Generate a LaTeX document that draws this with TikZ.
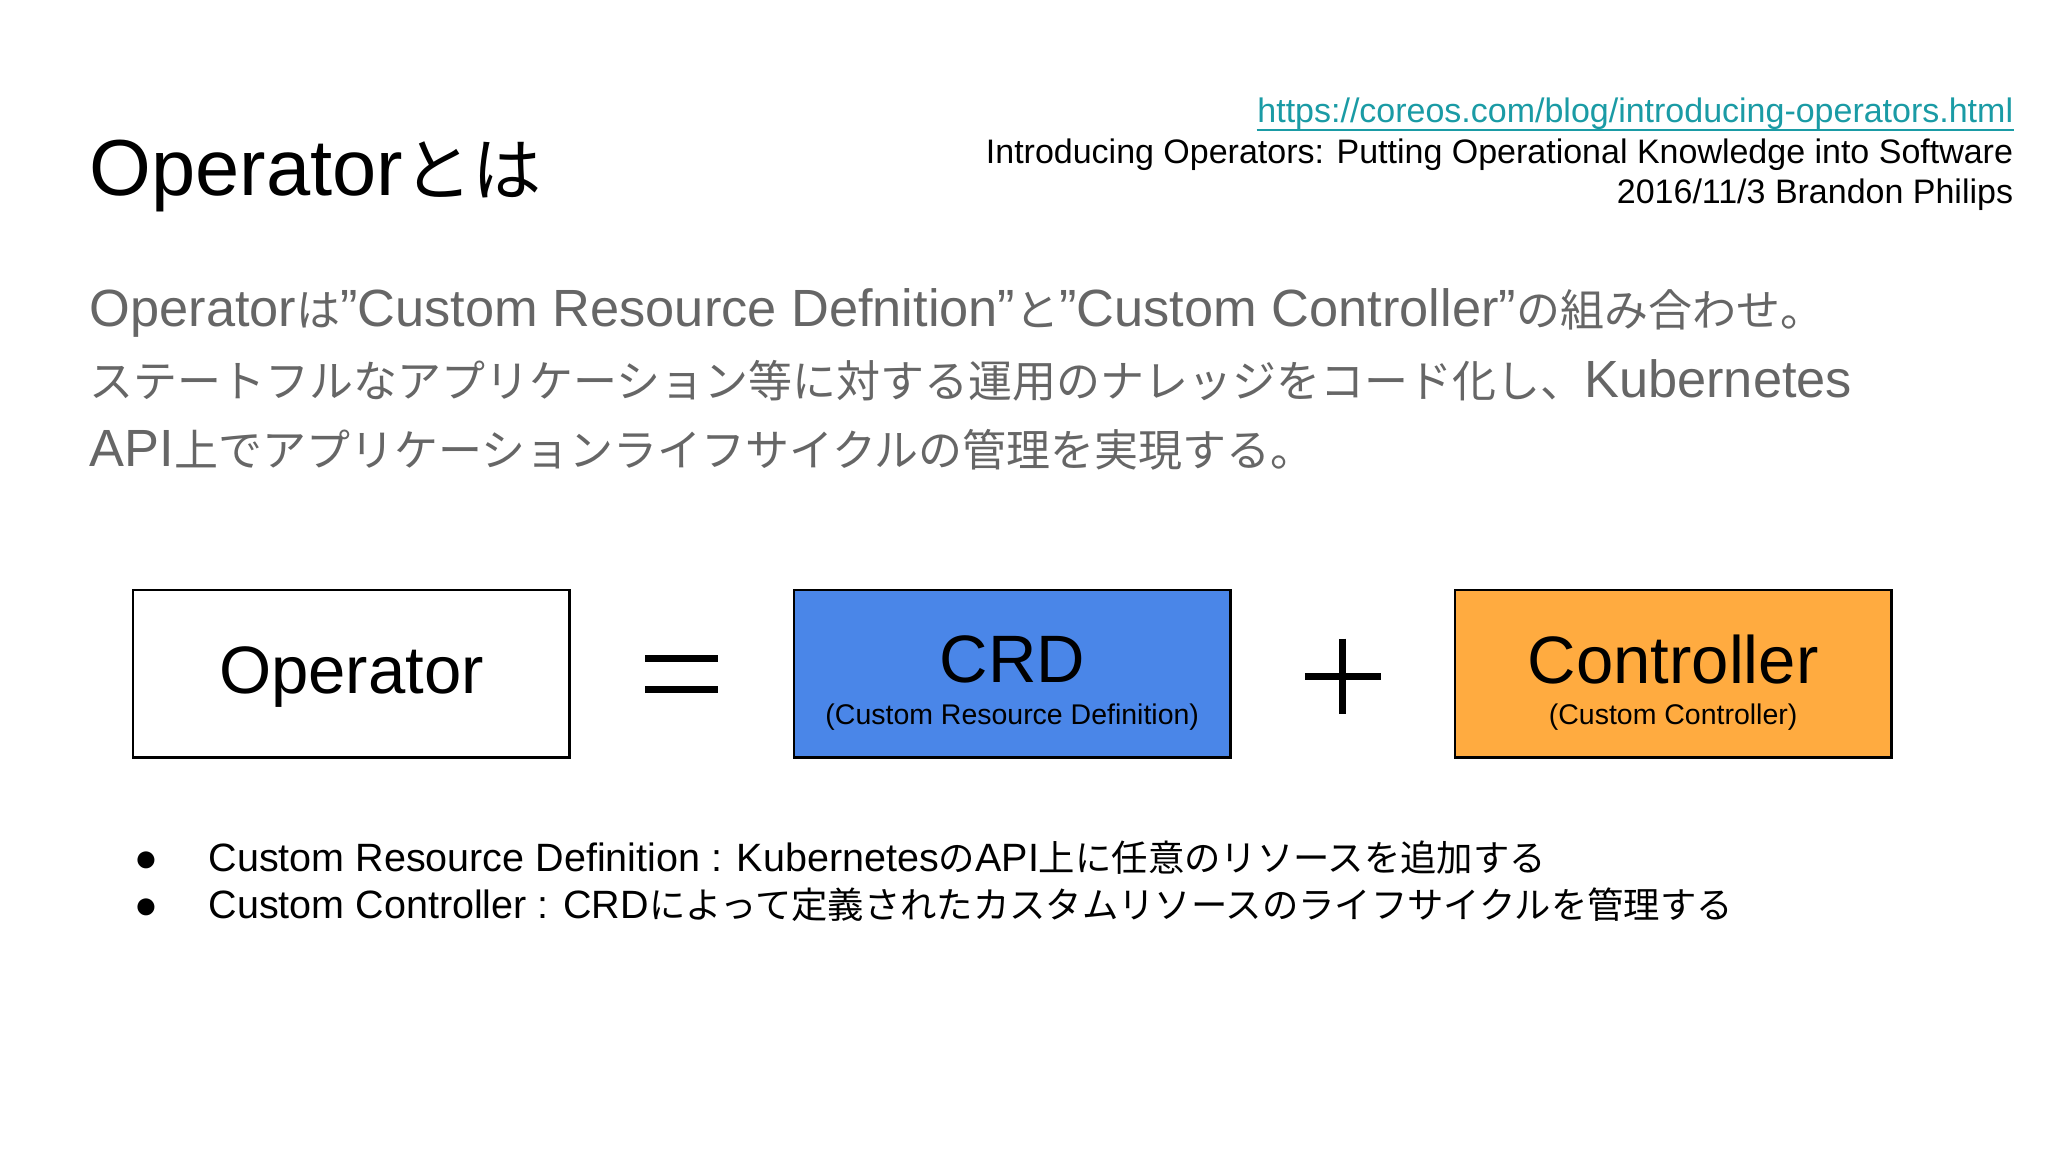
\documentclass[tikz,border=0pt]{standalone}
\usepackage{fontspec}
\setmainfont{Liberation Sans}
\newfontfamily\cjk{Noto Sans CJK JP}[Scale=0.92]
\newfontfamily\cjkb{Noto Sans CJK JP}[Scale=0.84]
\newfontfamily\cjkt{Noto Sans CJK JP}[Scale=0.87]
\definecolor{bodygray}{HTML}{666666}
\definecolor{linkc}{HTML}{1A9BA5}
\definecolor{crdblue}{HTML}{4A86E8}
\definecolor{ctlorange}{HTML}{FFAB40}
\begin{document}
\begin{tikzpicture}[x=0.01cm,y=-0.01cm,
  box/.style={draw=black,line width=0.5pt,minimum width=3.34cm,minimum height=1.28cm,inner sep=0pt},
  big/.style={font=\fontsize{14.6}{17}\selectfont},
  sub/.style={font=\fontsize{6.2}{7}\selectfont},
  hdr/.style={anchor=base east,inner sep=0pt,font=\fontsize{7.4}{9}\selectfont},
  body/.style={anchor=base west,inner sep=0pt,text=bodygray,font=\fontsize{11.4}{14}\selectfont},
  bul/.style={anchor=base west,inner sep=0pt,font=\fontsize{8.6}{10}\selectfont},
  sym/.style={line width=1.6pt}]
\useasboundingbox[fill=white] (0,0) rectangle (1568,882);
\node[anchor=base west,inner sep=0pt,font=\fontsize{17.3}{20}\selectfont] (title) at (68,150) {Operator{\cjkt とは}};
\node[hdr,text=linkc] (url) at (1542,94) {https://coreos.com/blog/introducing-operators.html};
\draw[linkc,line width=0.4pt] ([yshift=-1.5pt]url.base west) -- ([yshift=-1.5pt]url.base east);
\node[hdr] (h2) at (1542,125) {Introducing Operators: Putting Operational Knowledge into Software};
\node[hdr] (h3) at (1542,156) {2016/11/3 Brandon Philips};
\node[body] (b1) at (68,250) {Operator{\cjkb は}”Custom Resource Defnition”{\cjkb と}”Custom Controller”{\cjkb の組み合わせ。}};
\node[body] (b2) at (68,304) {{\cjkb ステートフルなアプリケーション等に対する運用のナレッジをコード化し、}Kubernetes};
\node[body] (b3) at (68,357) {API{\cjkb 上でアプリケーションライフサイクルの管理を実現する。}};
\node[box,fill=white] (op) at (269,516) {};
\node[big] (opt) at (269,518) {Operator};
\node[box,fill=crdblue] (crd) at (775,516) {};
\node[big] (crdt) at (775,505) {CRD};
\node[sub] (crds) at (775,549) {(Custom Resource Definition)};
\node[box,fill=ctlorange] (ctl) at (1281,516) {};
\node[big] (ctlt) at (1281,505) {Controller};
\node[sub] (ctls) at (1281,549) {(Custom Controller)};
\draw[sym] (494,504) -- (550,504);
\draw[sym] (494,528) -- (550,528);
\draw[sym] (999,518) -- (1057,518);
\draw[sym] (1028,489) -- (1028,547);
\node[bul] (d1) at (102,667) {●};
\node[bul] (l1) at (159,667) {Custom Resource Definition : Kubernetes{\cjk の}API{\cjk 上に任意のリソースを追加する}};
\node[bul] (d2) at (102,703) {●};
\node[bul] (l2) at (159,703) {Custom Controller : CRD{\cjk によって定義されたカスタムリソースのライフサイクルを管理する}};
\end{tikzpicture}
\end{document}
